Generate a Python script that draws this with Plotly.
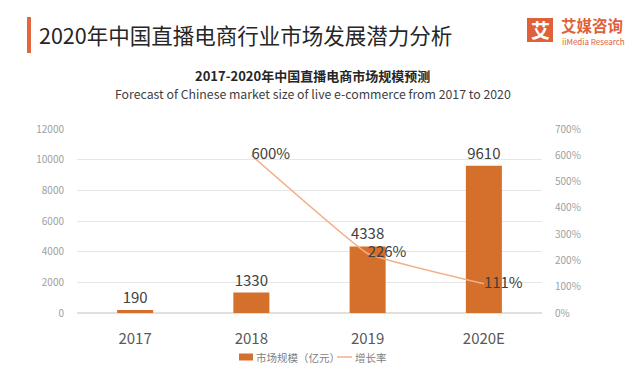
import plotly.graph_objects as go

categories = ["2017", "2018", "2019", "2020E"]
market_size = [190, 1330, 4338, 9610]
growth_years = ["2018", "2019", "2020E"]
growth_rate = [6.00, 2.26, 1.11]
growth_labels = ["600%", "226%", "111%"]
left_ticks = [0, 2000, 4000, 6000, 8000, 10000, 12000]
left_tick_text = ["0", "2000", "4000", "6000", "8000", "10000", "12000"]
right_ticks = [0, 1, 2, 3, 4, 5, 6, 7]
right_tick_text = ["0%", "100%", "200%", "300%", "400%", "500%", "600%", "700%"]
legend_names = ["市场规模（亿元）", "增长率"]

FONT = "Noto Sans CJK SC"
BAR_COLOR = "#D4702B"
LINE_COLOR = "#F2B088"
OFF = 8  # page body margin
W, H = 640 - OFF, 371 - OFF
L, R, T, B = 77, 542, 129, 313  # plot edges in screen pixels


def px(x):
    return (x - L) / (R - L)


def py(y):
    return (B - y) / (B - T)


fig = go.Figure()
fig.add_trace(go.Bar(
    x=categories, y=market_size, name=legend_names[0],
    marker=dict(color=BAR_COLOR, line=dict(width=0)), width=0.31,
    text=[str(v) for v in market_size], textposition="outside",
    textfont=dict(size=15, color="#404040", family=FONT),
    cliponaxis=False,
))
fig.add_trace(go.Scatter(
    x=growth_years, y=growth_rate, name=legend_names[1], yaxis="y2",
    mode="lines+text", line=dict(color=LINE_COLOR, width=1.5, shape="spline", smoothing=0.25),
    text=growth_labels, textposition="middle right",
    textfont=dict(size=15, color="#404040", family=FONT),
    cliponaxis=False,
))

shapes = [
    dict(type="rect", xref="paper", yref="paper", x0=px(27), x1=px(31), y0=py(53), y1=py(17),
         fillcolor="#E2673D", line=dict(width=0)),
    dict(type="rect", xref="paper", yref="paper", x0=px(527), x1=px(553), y0=py(42), y1=py(18),
         fillcolor="#E0603A", line=dict(width=0)),
    # legend symbols
    dict(type="rect", xref="paper", yref="paper", x0=px(239), x1=px(253), y0=py(360.5), y1=py(353.5),
         fillcolor=BAR_COLOR, line=dict(width=0)),
    dict(type="line", xref="paper", yref="paper", x0=px(337), x1=px(352), y0=py(357), y1=py(357),
         line=dict(color=LINE_COLOR, width=1.5)),
]
annotations = [
    dict(text="2020年中国直播电商行业市场发展潜力分析", xref="paper", yref="paper", x=px(37), y=py(35),
         xanchor="left", yanchor="middle", showarrow=False, font=dict(size=21.5, color="#262626", family=FONT)),
    dict(text="<b>艾</b>", xref="paper", yref="paper", x=px(540), y=py(30),
         xanchor="center", yanchor="middle", showarrow=False, font=dict(size=19, color="white", family=FONT)),
    dict(text="<b>艾媒咨询</b>", xref="paper", yref="paper", x=px(559), y=py(25),
         xanchor="left", yanchor="middle", showarrow=False, font=dict(size=15.5, color="#E0603A", family=FONT)),
    dict(text="iiMedia Research", xref="paper", yref="paper", x=px(560), y=py(41),
         xanchor="left", yanchor="middle", showarrow=False, font=dict(size=8, color="#E0603A", family=FONT)),
    dict(text="<b>2017-2020年中国直播电商市场规模预测</b>", xref="paper", yref="paper", x=px(312), y=py(76),
         xanchor="center", yanchor="middle", showarrow=False, font=dict(size=13, color="#262626", family=FONT)),
    dict(text="Forecast of Chinese market size of live e-commerce from 2017 to 2020", xref="paper", yref="paper",
         x=px(313), y=py(94), xanchor="center", yanchor="middle", showarrow=False,
         font=dict(size=12.3, color="#404040", family=FONT)),
    dict(text=legend_names[0], xref="paper", yref="paper", x=px(254), y=py(357),
         xanchor="left", yanchor="middle", showarrow=False, font=dict(size=10.5, color="#808080", family=FONT)),
    dict(text=legend_names[1], xref="paper", yref="paper", x=px(353), y=py(357),
         xanchor="left", yanchor="middle", showarrow=False, font=dict(size=10.5, color="#808080", family=FONT)),
]

fig.update_layout(
    width=W, height=H,
    margin=dict(l=L - OFF, r=640 - R, t=T - OFF, b=371 - B, autoexpand=False),
    paper_bgcolor="white", plot_bgcolor="white",
    font=dict(family=FONT),
    showlegend=False,
    xaxis=dict(type="category", categoryorder="array", categoryarray=categories,
               tickfont=dict(size=15, color="#595959", family=FONT), showgrid=False,
               ticks="outside", ticklen=12, tickcolor="rgba(0,0,0,0)", showline=False),
    yaxis=dict(range=[0, 12000], tickvals=left_ticks, ticktext=left_tick_text,
               tickfont=dict(size=10, color="#A0A0A0", family=FONT),
               gridcolor="#E6E6E6", gridwidth=1, zeroline=True, zerolinecolor="#E0E0E0",
               ticks="outside", ticklen=10, tickcolor="rgba(0,0,0,0)"),
    yaxis2=dict(range=[0, 7], overlaying="y", side="right", tickvals=right_ticks, ticktext=right_tick_text,
                tickfont=dict(size=10, color="#A0A0A0", family=FONT), showgrid=False, zeroline=False,
                ticks="outside", ticklen=10, tickcolor="rgba(0,0,0,0)"),
    shapes=shapes, annotations=annotations,
)

fig.write_html("out.html")
